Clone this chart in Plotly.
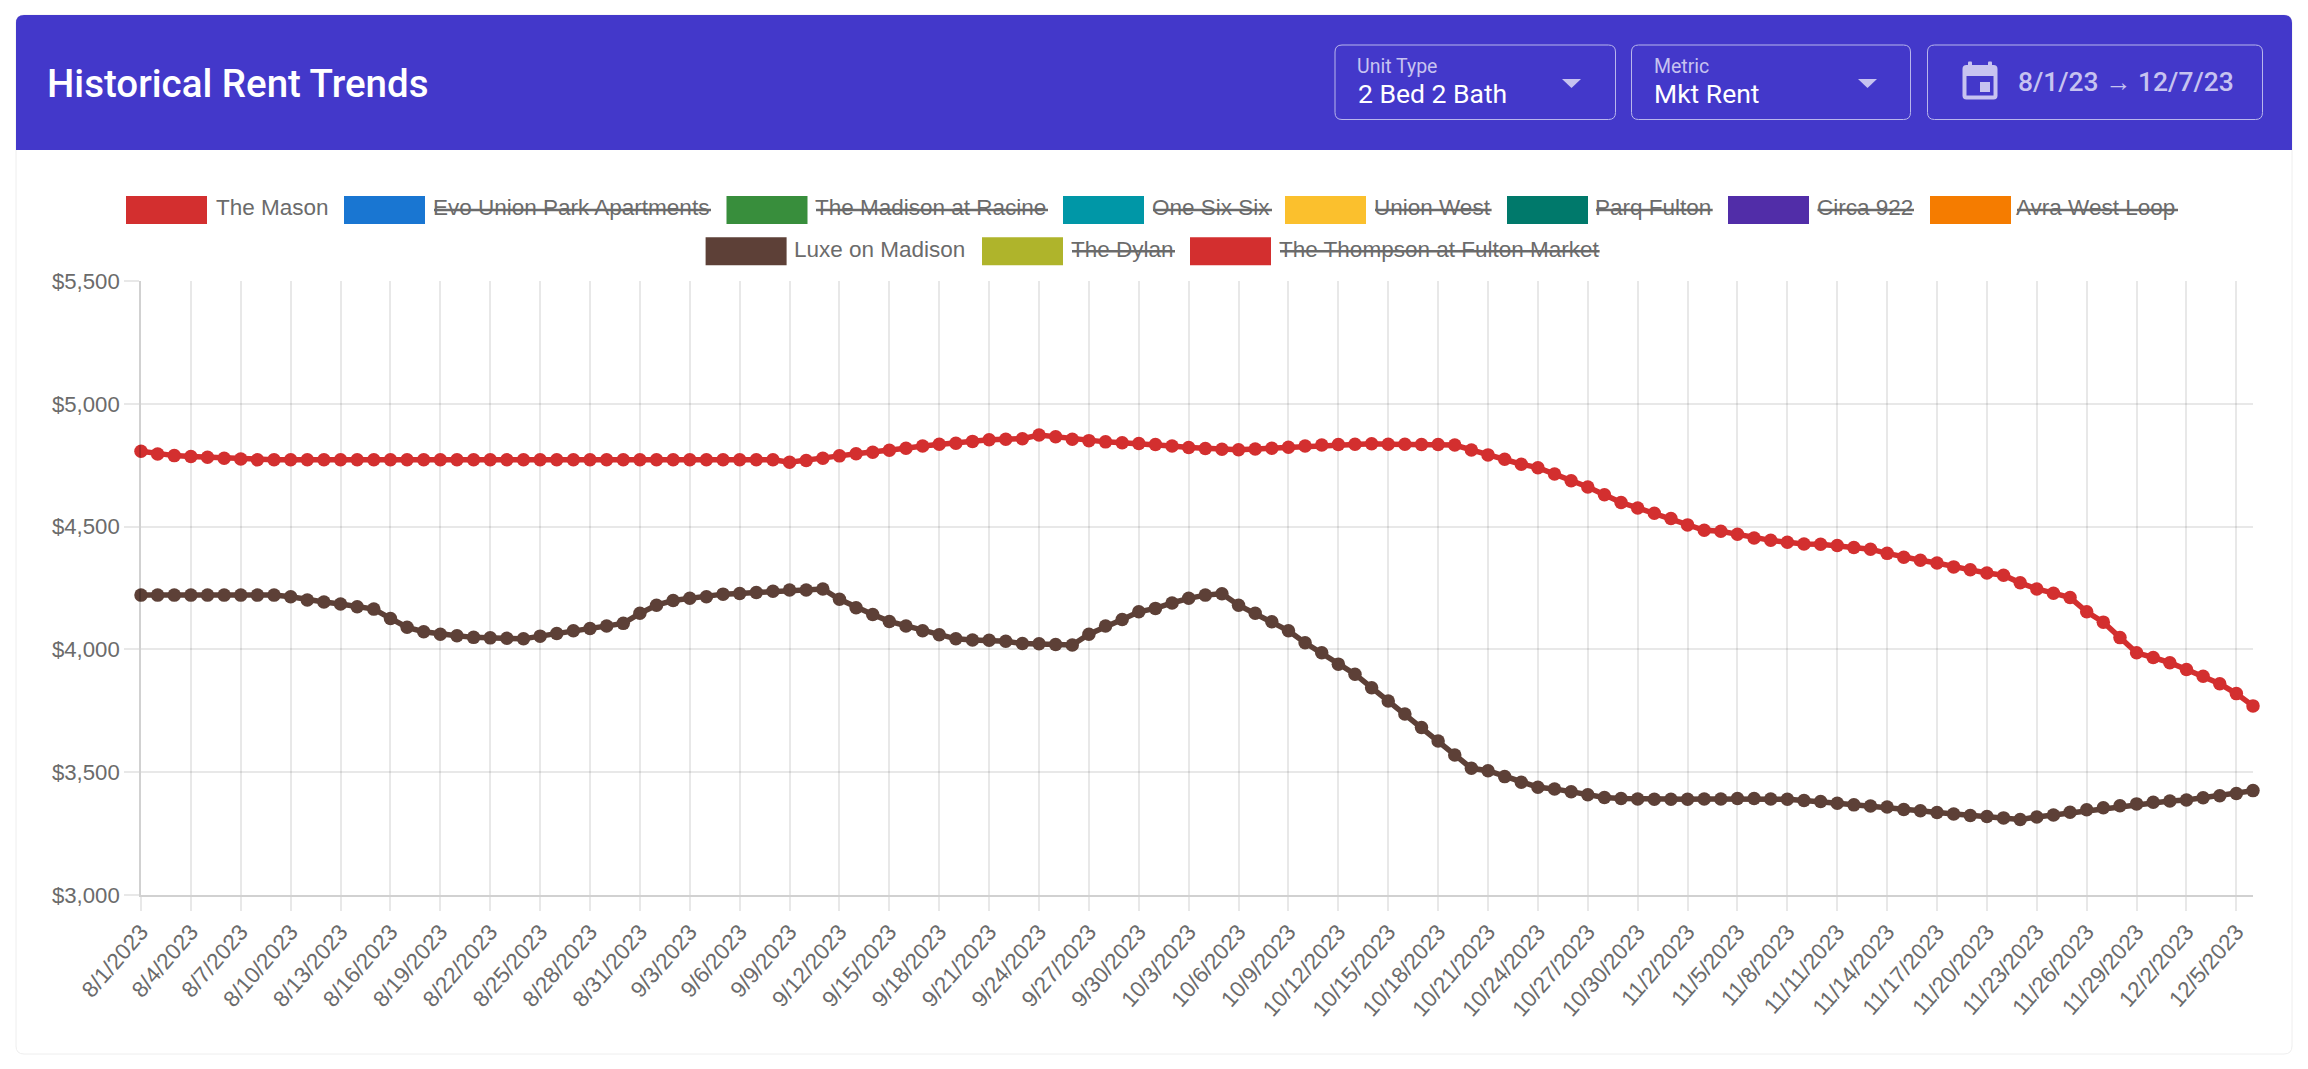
import datetime as dt
import plotly.graph_objects as go

W, H = 2308, 1069
L, R, T, B = 141, 2253, 281, 895

start = dt.date(2023, 8, 1)
dates = [(start + dt.timedelta(days=i)) for i in range(128)]
date_labels = [f"{d.month}/{d.day}/{d.year}" for d in dates]
tick_labels = date_labels[::3]

mason = [4807, 4796, 4789, 4785, 4782, 4778, 4775] + [4772] * 32 + [4762,
         4769, 4778, 4788, 4797, 4803, 4811, 4819, 4828, 4835, 4839, 4847, 4854, 4856, 4858, 4873, 4866,
         4856, 4850, 4845, 4841, 4838, 4834, 4828, 4822, 4818, 4815, 4813, 4816, 4819, 4823, 4828, 4832,
         4834, 4835, 4837, 4835, 4835, 4834, 4834, 4832, 4812, 4792, 4774, 4754, 4740, 4714, 4687, 4661,
         4630, 4598, 4576, 4554, 4533, 4507, 4485, 4481, 4469, 4454, 4444, 4436, 4429, 4428, 4423, 4415,
         4408, 4391, 4375, 4363, 4352, 4336, 4324, 4311, 4302, 4271, 4246, 4229, 4211, 4153, 4111, 4048,
         3986, 3967, 3946, 3918, 3891, 3860, 3820, 3770]

luxe = [4221] * 9 + [4214, 4201, 4193, 4185, 4174, 4164, 4126, 4090, 4072, 4062, 4056, 4049, 4047, 4045,
        4043, 4054, 4065, 4076, 4085, 4095, 4106, 4147, 4180, 4199, 4208, 4214, 4225, 4228, 4232, 4237,
        4242, 4242, 4246, 4204, 4170, 4142, 4114, 4095, 4076, 4060, 4043, 4038, 4037, 4033, 4024, 4023,
        4020, 4018, 4062, 4095, 4122, 4153, 4167, 4189, 4208, 4221, 4227, 4180, 4147, 4113, 4076, 4027,
        3986, 3940, 3899, 3844, 3790, 3737, 3682, 3627, 3570, 3516, 3506, 3482, 3459, 3439, 3432, 3420,
        3408, 3397, 3393, 3391, 3390, 3390, 3390, 3391, 3391, 3393, 3393, 3391, 3390, 3385, 3381, 3374,
        3367, 3362, 3358, 3348, 3343, 3336, 3330, 3324, 3320, 3314, 3307, 3318, 3326, 3337, 3347, 3355,
        3363, 3371, 3378, 3383, 3387, 3396, 3404, 3413, 3425]

y_ticks = [3000, 3500, 4000, 4500, 5000, 5500]
y_tick_labels = ["$3,000", "$3,500", "$4,000", "$4,500", "$5,000", "$5,500"]

legend_names = ["The Mason", "Evo Union Park Apartments", "The Madison at Racine", "One Six Six",
                "Union West", "Parq Fulton", "Circa 922", "Avra West Loop",
                "Luxe on Madison", "The Dylan", "The Thompson at Fulton Market"]
legend_colors = ["#d32f2f", "#1976d2", "#388e3c", "#0097a7", "#fbc02d", "#00796b", "#512da8", "#f57c00",
                 "#5d4037", "#afb42b", "#d32f2f"]
legend_hidden = [False, True, True, True, True, True, True, True, False, True, True]
legend_swatch_x = [126, 344, 726.5, 1063, 1285, 1507, 1728, 1930, 705.6, 982, 1190]
legend_text_x = [(216.5, 328), (434, 711), (816, 1048), (1153, 1272), (1375, 1491.6), (1596, 1712.7),
                 (1817.5, 1914), (2017, 2178), (795, 967), (1072, 1175), (1280, 1599.6)]
legend_row = [0, 0, 0, 0, 0, 0, 0, 0, 1, 1, 1]

HEADER = "#4338ca"
LAV = "#c7c3f0"
BORDER = "#b9b6ec"
TEXT = "#6b6b6b"
GRID = "rgba(0,0,0,0.09)"


def px(x):
    return (x - L) / (R - L)


def py(y):
    return (B - y) / (B - T)


def rrect(x0, y0, x1, y1, r, tl=True, tr=True, br=True, bl=True):
    a = lambda x, y: f"{px(x)},{py(y)}"
    p = f"M{a(x0 + (r if tl else 0), y0)} L{a(x1 - (r if tr else 0), y0)} "
    if tr:
        p += f"Q{a(x1, y0)} {a(x1, y0 + r)} "
    p += f"L{a(x1, y1 - (r if br else 0))} "
    if br:
        p += f"Q{a(x1, y1)} {a(x1 - r, y1)} "
    p += f"L{a(x0 + (r if bl else 0), y1)} "
    if bl:
        p += f"Q{a(x0, y1)} {a(x0, y1 - r)} "
    p += f"L{a(x0, y0 + (r if tl else 0))} "
    if tl:
        p += f"Q{a(x0, y0)} {a(x0 + r, y0)} "
    return p + "Z"


def path(d, fill=None, line=None, width=1, layer="below"):
    return dict(type="path", xref="paper", yref="paper", path=d, fillcolor=fill or "rgba(0,0,0,0)",
                line=dict(color=line or "rgba(0,0,0,0)", width=width if line else 0), layer=layer)


def note(x, y, text, size, color, family="Roboto", anchor="left", weight=400):
    return dict(xref="paper", yref="paper", x=px(x), y=py(y), text=text, showarrow=False, xanchor=anchor,
                yanchor="middle", align=anchor, font=dict(family=family, size=size, color=color, weight=weight))


shapes = [
    path(rrect(16, 15, 2292, 1054, 8), "#ffffff", "#eeeeee", 1),
    path(rrect(16, 15, 2292, 150, 8, br=False, bl=False), HEADER),
    path(rrect(1335, 45, 1615.5, 119.5, 7), None, BORDER, 1),
    path(rrect(1631.5, 45, 1910.5, 119.5, 7), None, BORDER, 1),
    path(rrect(1927.5, 45, 2262.5, 119.5, 7), None, BORDER, 1),
]
for ax in (1562, 1858):
    shapes.append(path(f"M{px(ax)},{py(79)} L{px(ax + 19)},{py(79)} L{px(ax + 9.5)},{py(88)} Z", LAV))
# calendar icon
shapes += [
    path(rrect(1962.5, 65, 1997.5, 99.5, 4), LAV),
    path(rrect(1968, 61.5, 1972, 68, 1), LAV),
    path(rrect(1988, 61.5, 1992, 68, 1), LAV),
    path(rrect(1966.5, 76, 1993.5, 95.5, 0), HEADER),
    path(rrect(1980, 82, 1990, 92, 0), LAV),
]

annotations = [
    note(45, 83, "Historical Rent Trends", 38.5, "#ffffff", weight=500),
    note(1355, 66, "Unit Type", 19.5, LAV),
    note(1356, 93, "2 Bed 2 Bath", 26.5, "#ffffff"),
    note(1652, 66, "Metric", 19.5, LAV),
    note(1652, 93, "Mkt Rent", 26.5, "#ffffff"),
    note(2016, 82, "8/1/23 → 12/7/23", 26.4, LAV, weight=500),
]

for name, color, hidden, sx, (tx0, tx1), row in zip(legend_names, legend_colors, legend_hidden, legend_swatch_x,
                                                    legend_text_x, legend_row):
    y0 = 196 + row * 41.3
    cy = y0 + 14
    shapes.append(path(rrect(sx, y0, sx + 81, y0 + 28, 0), color))
    annotations.append(note(tx0 - 3, cy - 2, name, 22.5, TEXT, family="Liberation Sans"))
    if hidden:
        shapes.append(dict(type="line", xref="paper", yref="paper", x0=px(tx0), x1=px(tx1), y0=py(cy),
                           y1=py(cy), line=dict(color="#6b6b6b", width=2.5), layer="above"))

fig = go.Figure()
for name, vals, color in [("Luxe on Madison", luxe, "#5d4037"), ("The Mason", mason, "#d32f2f")]:
    fig.add_trace(go.Scatter(x=date_labels, y=vals, name=name, mode="lines+markers", cliponaxis=False,
                             line=dict(color=color, width=5.5), marker=dict(color=color, size=13.5)))

fig.update_layout(
    width=W, height=H, autosize=False, showlegend=False,
    paper_bgcolor="#ffffff", plot_bgcolor="rgba(0,0,0,0)",
    margin=dict(l=L, r=W - R, t=T, b=H - B, pad=0),
    shapes=shapes, annotations=annotations,
    font=dict(family="Liberation Sans", color=TEXT),
)
fig.update_xaxes(type="category", categoryorder="array", categoryarray=date_labels, range=[0, 127],
                 tickmode="array", tickvals=tick_labels, ticktext=tick_labels, tickangle=-49,
                 tickfont=dict(size=22.5, color=TEXT), showgrid=True, gridcolor=GRID, gridwidth=1.5,
                 ticks="outside", ticklen=14, tickwidth=1.5, tickcolor=GRID, ticklabelstandoff=-1,
                 showline=True, linecolor="rgba(0,0,0,0.18)", linewidth=1.5, zeroline=False)
fig.update_yaxes(range=[3000, 5500], tickmode="array", tickvals=y_ticks, ticktext=y_tick_labels,
                 tickfont=dict(size=22.2, color=TEXT), showgrid=True, gridcolor=GRID, gridwidth=1.5,
                 ticks="outside", ticklen=15, tickwidth=1.5, tickcolor=GRID,
                 showline=True, linecolor="rgba(0,0,0,0.18)", linewidth=1.5, zeroline=False)

fig.write_html("out.html", config={"displayModeBar": False},
               post_script="document.body.style.margin='0';document.body.style.overflow='hidden';")
